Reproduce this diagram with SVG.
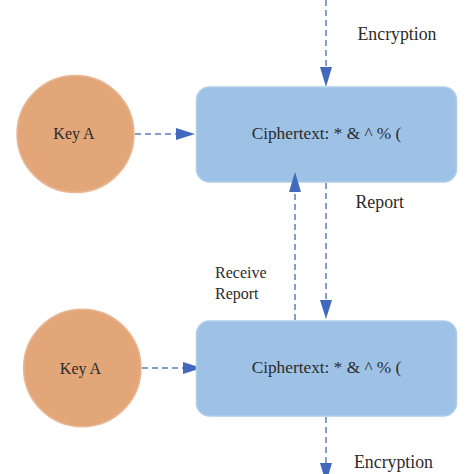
<svg xmlns="http://www.w3.org/2000/svg" width="474" height="474" viewBox="0 0 474 474">
<style>
.box{fill:#9DC2E6;stroke:#AFCDEB;stroke-width:1.5}
.key{fill:#E3A679;stroke:#E8B896;stroke-width:1.5}
.t{font-family:'Liberation Serif','Times New Roman',serif;fill:#2b2b2b}
.c{text-anchor:middle;dominant-baseline:central}
.s16{font-size:16px}
.s17{font-size:17.3px}
.s18{font-size:17.8px}
.ln{stroke:#5C7FBD;stroke-width:1.5;stroke-dasharray:6 4;fill:none}
.ah{fill:#4169BD}
</style>
<rect width="474" height="474" fill="#ffffff"/>
<g id="connectors">
<line class="ln" x1="326" y1="0" x2="326" y2="68"/>
<polygon class="ah" points="320,67 332,67 326,87"/>
<line class="ln" x1="135" y1="134" x2="177" y2="134"/>
<polygon class="ah" points="176,128 176,140 195,134"/>
<line class="ln" x1="295" y1="320" x2="295" y2="191"/>
<line class="ln" x1="326" y1="183" x2="326" y2="301"/>
<polygon class="ah" points="320,300 332,300 326,319"/>
<line class="ln" x1="142" y1="368" x2="184" y2="368"/>
<polygon class="ah" points="183,362 183,374 202,368"/>
<line class="ln" x1="326" y1="417" x2="326" y2="464"/>
<polygon class="ah" points="320,463 332,463 326,483"/>
</g>
<g id="box1">
<rect class="box" x="196.5" y="87" width="260" height="95" rx="13"/>
<text class="t c s17" x="326.5" y="133">Ciphertext: * &amp; ^ % (</text>
</g>
<g id="arrowhead-up">
<polygon class="ah" points="289,192 301,192 295,172"/>
</g>
<g id="key1">
<circle class="key" cx="75.5" cy="134" r="58.5"/>
<text class="t c s16" x="74" y="133">Key A</text>
</g>
<g id="box2">
<rect class="box" x="196.5" y="321" width="260" height="95" rx="13"/>
<text class="t c s17" x="326.5" y="367.5">Ciphertext: * &amp; ^ % (</text>
</g>
<g id="key2">
<circle class="key" cx="82.3" cy="368" r="58.7"/>
<text class="t c s16" x="80.5" y="368">Key A</text>
</g>
<g id="labels">
<text class="t s18" x="357.5" y="40">Encryption</text>
<text class="t s18" x="355.5" y="207.5">Report</text>
<text class="t s16" x="215" y="277.5">Receive</text>
<text class="t s16" x="215" y="298.5">Report</text>
<text class="t s18" x="354" y="468">Encryption</text>
</g>
</svg>
